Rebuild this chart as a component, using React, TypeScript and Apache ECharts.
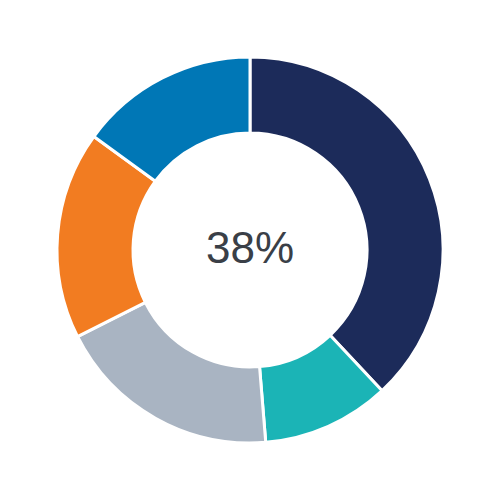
import React, { useEffect, useRef } from 'react';
import * as echarts from 'echarts';

const sliceNames = ['Navy', 'Teal', 'Gray', 'Orange', 'Blue'];
const sliceValues = [38, 10.7, 18.9, 17.4, 15];
const sliceColors = ['#1c2b5a', '#1bb4b6', '#a9b4c2', '#f27c21', '#0077b6'];
const centerLabel = '38%';

export default function App() {
  const chartRef = useRef<HTMLDivElement>(null);

  useEffect(() => {
    if (!chartRef.current) return;
    const chart = echarts.init(chartRef.current, undefined, { renderer: 'svg' });

    chart.setOption({
      animation: false,
      graphic: [
        {
          type: 'text',
          x: 250,
          y: 247,
          style: {
            text: centerLabel,
            fontSize: 44,
            fontFamily: 'Liberation Sans, Arial, sans-serif',
            fill: '#3a3f47',
            align: 'center',
            verticalAlign: 'middle',
          },
        },
      ],
      series: [
        {
          type: 'pie',
          center: [250, 250],
          radius: [117, 193],
          startAngle: 90,
          clockwise: true,
          label: { show: false },
          labelLine: { show: false },
          emphasis: { disabled: true },
          itemStyle: { borderColor: '#ffffff', borderWidth: 3 },
          data: sliceNames.map((name, i) => ({
            name,
            value: sliceValues[i],
            itemStyle: { color: sliceColors[i] },
          })),
        },
      ],
    });

    return () => {
      chart.dispose();
    };
  }, []);

  return (
    <div
      ref={chartRef}
      style={{ width: 500, height: 500, margin: -8, background: '#ffffff' }}
    />
  );
}
